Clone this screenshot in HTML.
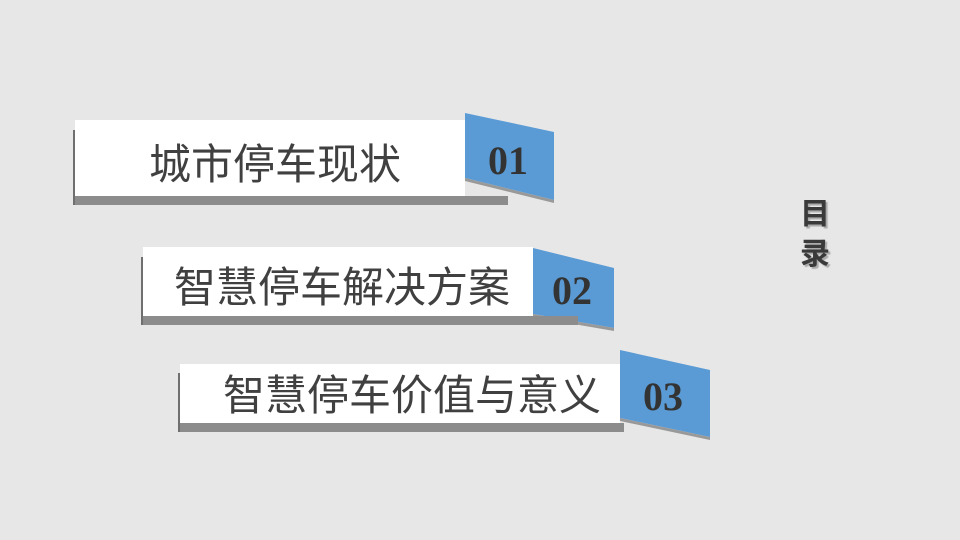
<!DOCTYPE html>
<html><head><meta charset="utf-8"><style>
body{margin:0;width:960px;height:540px;background:#e7e7e7;position:relative;overflow:hidden;font-family:"Liberation Sans","Noto Sans CJK SC",sans-serif}
.a{position:absolute}
.w{background:#fff}
.s{background:#8c8c8c}
.e{background:#6f6f6f}
.t{position:absolute;color:#404040;font-size:42px;white-space:nowrap;line-height:1}
.n{position:absolute;font-family:"Liberation Serif",serif;font-weight:bold;font-size:40px;color:#333;line-height:1}
</style></head><body>
<svg class="a" style="left:0;top:0" width="960" height="540">
<polygon points="465,113 554,132 554,200 465,178" fill="#5b9bd5"/>
<polygon points="465,178 554,200 554,203 465,181" fill="#999"/>
<polygon points="533,248 614,268 614,328 533,314" fill="#5b9bd5"/>
<polygon points="533,314 614,328 614,331 533,317" fill="#999"/>
<polygon points="620,350 710,370 710,437 620,418" fill="#5b9bd5"/>
<polygon points="620,418 710,437 710,440 620,421" fill="#999"/>
</svg>
<div class="a s" style="left:73px;top:196px;width:435px;height:9px"></div>
<div class="a e" style="left:73px;top:130px;width:2px;height:75px"></div>
<div class="a w" style="left:75px;top:120px;width:390px;height:76px"></div>
<div class="t" style="left:149px;top:144px">城市停车现状</div>
<div class="n" style="left:488px;top:141px">01</div>

<div class="a s" style="left:141px;top:316px;width:437px;height:9px"></div>
<div class="a e" style="left:141px;top:257px;width:2px;height:68px"></div>
<div class="a w" style="left:143px;top:247px;width:390px;height:69px"></div>
<div class="t" style="left:174px;top:267px">智慧停车解决方案</div>
<div class="n" style="left:552px;top:271px">02</div>

<div class="a s" style="left:178px;top:423px;width:446px;height:9px"></div>
<div class="a e" style="left:178px;top:373px;width:2px;height:59px"></div>
<div class="a w" style="left:180px;top:364px;width:440px;height:59px"></div>
<div class="t" style="left:223px;top:375px">智慧停车价值与意义</div>
<div class="n" style="left:643px;top:377px">03</div>

<div class="a" style="left:800px;top:195px;font-size:30px;font-weight:bold;color:#3a3a3a;line-height:40px;text-shadow:2px 2px 1px #aaa">目<br>录</div>
</body></html>
